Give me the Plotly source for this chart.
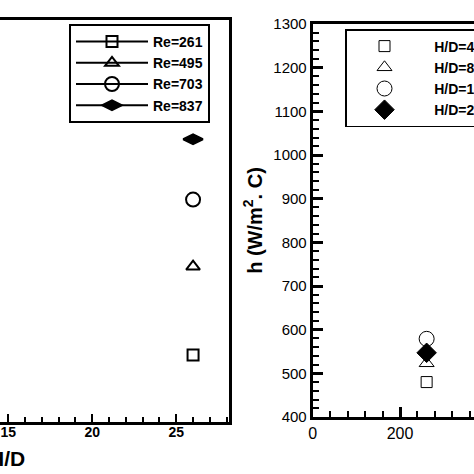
import plotly.graph_objects as go

# left panel: h at H/D = 26 for each Reynolds number
re_labels = ["Re=261", "Re=495", "Re=703", "Re=837"]
hd_left = [26, 26, 26, 26]
h_left = [550, 748, 898, 1033]

# right panel: h at Re = 261 for each H/D
hd_labels = ["H/D=4", "H/D=8", "H/D=16", "H/D=26"]
re_right = [261, 261, 261, 261]
h_right = [480, 523, 579, 547]

font_fam = "Arial, Liberation Sans, sans-serif"
left_symbols = ["square-open", "triangle-up-open", "circle-open", "diamond-wide"]
left_sizes = [11, 12, 14, 14]
right_symbols = ["square-open", "triangle-up-open", "circle-open", "diamond"]
right_sizes = [11, 13, 15, 15]
pad = "\u00a0" * 3  # pushes the H/D legend text to the right

fig = go.Figure()

for i in range(4):
    fig.add_trace(go.Scatter(
        x=[hd_left[i]], y=[h_left[i]], mode="lines+markers", name=re_labels[i],
        line=dict(color="black", width=2),
        marker=dict(symbol=left_symbols[i], size=left_sizes[i], color="black",
                    line=dict(color="black", width=2)),
        xaxis="x", yaxis="y", legend="legend"))

for i in range(4):
    fig.add_trace(go.Scatter(
        x=[re_right[i]], y=[h_right[i]], mode="markers", name=pad + hd_labels[i],
        marker=dict(symbol=right_symbols[i], size=right_sizes[i], color="black",
                    line=dict(color="black", width=1)),
        xaxis="x2", yaxis="y2", legend="legend2"))

W = 474
fig.update_layout(
    width=W, height=W,
    margin=dict(l=0, r=0, t=0, b=0, autoexpand=False),
    paper_bgcolor="white", plot_bgcolor="white",
    font=dict(family=font_fam, color="black"),
    xaxis=dict(domain=[0, 228.5 / W], range=[14.506, 28.11],
               showline=True, linecolor="black", linewidth=2.5, mirror=True,
               showgrid=False, zeroline=False,
               ticks="inside", ticklen=8, tickwidth=2, tickcolor="black", dtick=5,
               tickfont=dict(size=14, weight="bold"), ticklabelstandoff=-5,
               minor=dict(ticks="inside", ticklen=5, tickwidth=1.5, dtick=1, tickcolor="black")),
    yaxis=dict(domain=[52 / W, 454 / W], range=[400, 1300], side="right",
               showline=True, linecolor="black", linewidth=2.5,
               showgrid=False, zeroline=False, showticklabels=False, ticks=""),
    xaxis2=dict(domain=[312.7 / W, 1], range=[0, 369.5], anchor="y2",
                showline=True, linecolor="black", linewidth=3, mirror=True,
                showgrid=False, zeroline=False,
                ticks="inside", ticklen=10, tickwidth=3, tickcolor="black", dtick=200,
                tickfont=dict(size=16),
                minor=dict(ticks="inside", ticklen=6, tickwidth=1.5, dtick=40, tickcolor="black")),
    yaxis2=dict(domain=[57 / W, 450 / W], range=[400, 1300], anchor="x2",
                showline=True, linecolor="black", linewidth=3,
                showgrid=False, zeroline=False,
                ticks="inside", ticklen=10, tickwidth=3, tickcolor="black", dtick=100,
                tickfont=dict(size=15),
                minor=dict(ticks="inside", ticklen=6, tickwidth=1.5, dtick=20, tickcolor="black"),
                title=dict(text="h (W/m<sup>2</sup>. C)", standoff=6,
                           font=dict(size=20, weight="bold"))),
    legend=dict(x=69 / W, y=1 - 24 / W, xanchor="left", yanchor="top",
                bordercolor="black", borderwidth=2, bgcolor="white",
                itemwidth=72, tracegroupgap=0,
                font=dict(size=14, weight="bold")),
    legend2=dict(x=345 / W, y=1 - 29 / W, xanchor="left", yanchor="top",
                 bordercolor="black", borderwidth=1.5, bgcolor="white",
                 itemwidth=66, tracegroupgap=0,
                 font=dict(size=14, weight="bold")),
    showlegend=True,
)

fig.add_annotation(text="H/D", xref="paper", yref="paper", x=7 / W, y=1 - 458 / W,
                   xanchor="center", yanchor="middle", showarrow=False,
                   font=dict(size=21, weight="bold"))

# drop the default page margin so the figure sits at the window corner
fig.write_html("out.html", config={"displayModeBar": False},
               post_script="document.body.style.margin='0';")
